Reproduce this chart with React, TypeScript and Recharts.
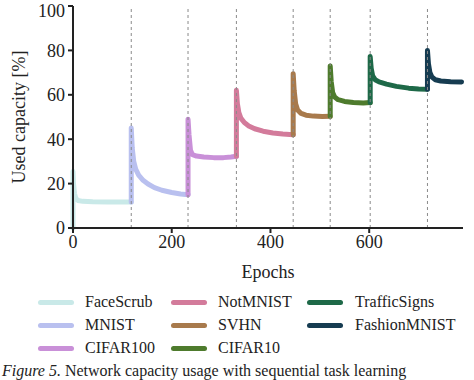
import React from "react";
import { LineChart, Line, XAxis, YAxis, ReferenceLine } from "recharts";

// task switch epochs (dashed markers)
const taskStarts = [118, 233, 331, 446, 521, 602, 718];
const xTicks = [0, 200, 400, 600];
const yTicks = [0, 20, 40, 60, 80, 100];

// [epoch, used capacity %]
const faceScrub = [[0, 0], [0, 25.5], [1, 20], [3, 15.5], [6, 13.2], [10, 12.4], [20, 12], [40, 11.8], [70, 11.7], [100, 11.7], [118, 11.7]];
const mnist = [[118, 11.7], [118, 45], [120, 36], [123, 30], [127, 26.5], [133, 23.8], [142, 21.5], [152, 19.8], [165, 18.2], [180, 17], [200, 16], [218, 15.3], [233, 15]];
const cifar100 = [[233, 15], [233, 49], [235, 42], [238, 35], [242, 33], [250, 32.4], [265, 32], [285, 31.7], [305, 31.7], [320, 32], [331, 32.3]];
const notMnist = [[331, 32.3], [331, 62], [333, 56], [336, 52], [340, 49.5], [347, 47.5], [356, 46], [368, 44.7], [385, 43.6], [405, 42.8], [425, 42.3], [446, 42]];
const svhn = [[446, 42], [446, 69.5], [448, 62], [451, 56], [455, 53.2], [462, 51.6], [472, 50.8], [487, 50.4], [505, 50.2], [521, 50.3]];
const cifar10 = [[521, 50.3], [521, 73], [523, 66], [526, 61], [530, 59], [537, 57.8], [550, 57], [568, 56.5], [588, 56.3], [602, 56.5]];
const trafficSigns = [[602, 56.5], [602, 77.2], [604, 72], [607, 68.5], [612, 66.8], [620, 65.8], [635, 64.8], [655, 63.8], [680, 63], [700, 62.6], [718, 62.5]];
const fashionMnist = [[718, 62.5], [718, 80], [720, 74], [723, 70], [727, 68], [734, 66.8], [745, 66.2], [765, 65.9], [787, 65.8]];

const series = [
  { name: "FaceScrub", color: "#c9e9e8", pts: faceScrub },
  { name: "MNIST", color: "#b9c0ef", pts: mnist },
  { name: "CIFAR100", color: "#c990d8", pts: cifar100 },
  { name: "NotMNIST", color: "#d37b9b", pts: notMnist },
  { name: "SVHN", color: "#a87a4c", pts: svhn },
  { name: "CIFAR10", color: "#4e7b2d", pts: cifar10 },
  { name: "TrafficSigns", color: "#1e6948", pts: trafficSigns },
  { name: "FashionMNIST", color: "#163c51", pts: fashionMnist },
];

const serif = "Liberation Serif";
const tickStyle = { fontSize: 18, fill: "#222", style: { fontFamily: serif } };

export default function App() {
  return (
    <div style={{ position: "fixed", left: 0, top: 0, width: 474, height: 380, background: "#fff", overflow: "hidden", fontFamily: serif }}>
      <LineChart width={474} height={282} margin={{ top: 6, right: 11, bottom: 0, left: 0 }} style={{ fontFamily: serif }}>
        <XAxis
          type="number"
          dataKey="epoch"
          domain={[0, 790]}
          ticks={xTicks}
          allowDuplicatedCategory={false}
          height={54}
          stroke="#222"
          strokeWidth={2}
          tickSize={5}
          tickMargin={2}
          tick={tickStyle}
          label={{ value: "Epochs", position: "insideBottom", offset: 4, fontSize: 18, fill: "#222", style: { fontFamily: serif } }}
        />
        <YAxis
          type="number"
          domain={[0, 100]}
          ticks={yTicks}
          width={73}
          stroke="#222"
          strokeWidth={2}
          tickSize={5}
          tickMargin={3}
          tick={tickStyle}
          label={{ value: "Used capacity [%]", angle: -90, position: "center", dx: -18, fontSize: 18, fill: "#222", style: { fontFamily: serif, textAnchor: "middle" } }}
        />
        {series.map((s) => (
          <Line
            key={s.name}
            data={s.pts.map(([epoch, value]) => ({ epoch, value }))}
            dataKey="value"
            type="linear"
            stroke={s.color}
            strokeWidth={5}
            strokeLinecap="round"
            strokeLinejoin="round"
            dot={false}
            isAnimationActive={false}
          />
        ))}
        {taskStarts.map((x) => (
          <ReferenceLine key={x} x={x} stroke="#8a8a8a" strokeWidth={1} strokeDasharray="3 3" />
        ))}
      </LineChart>

      {/* legend, three columns */}
      {series.map((s, i) => {
        const col = Math.floor(i / 3);
        const row = i % 3;
        const swX = [38, 171, 307][col];
        const txX = [85, 218, 355][col];
        const y = 302 + row * 23;
        return (
          <React.Fragment key={s.name}>
            <div style={{ position: "absolute", left: swX, top: y - 2.5, width: 36, height: 5, borderRadius: 3, background: s.color }} />
            <div style={{ position: "absolute", left: txX, top: y - 10, fontFamily: serif, fontSize: 16, lineHeight: "20px", color: "#222", whiteSpace: "nowrap" }}>
              {s.name}
            </div>
          </React.Fragment>
        );
      })}

      <div style={{ position: "absolute", left: 2, top: 361, fontFamily: serif, fontSize: 16, lineHeight: "19px", color: "#222", whiteSpace: "nowrap" }}>
        <i>Figure 5.</i> Network capacity usage with sequential task learning
      </div>
    </div>
  );
}
